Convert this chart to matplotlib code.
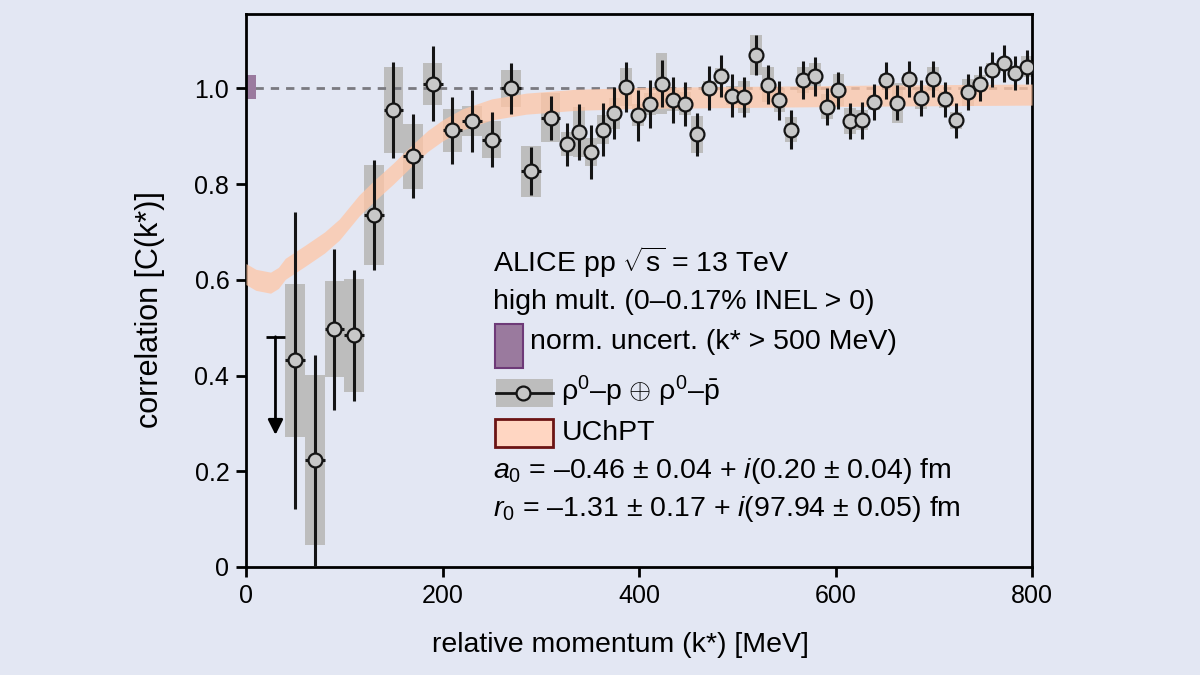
import numpy as np
import matplotlib
matplotlib.use("Agg")
import matplotlib.pyplot as plt
from matplotlib.patches import Rectangle

plt.rcParams["font.family"] = ["Liberation Sans", "DejaVu Sans"]
plt.rcParams["mathtext.fontset"] = "custom"
plt.rcParams["mathtext.rm"] = "Liberation Sans"
plt.rcParams["mathtext.it"] = "Liberation Sans:italic"

bg = "#e3e7f3"

# data points: k* (MeV), C(k*), stat err, syst err, bin width
k = [50, 70, 90, 110, 130, 150, 170, 190, 210, 230, 250, 270, 290, 310,
     327, 339, 351, 363, 375, 387, 399, 411, 423, 435, 447, 459, 471, 483,
     495, 507, 519, 531, 543, 555, 567, 579, 591, 603, 615, 627, 639, 651,
     663, 675, 687, 699, 711, 723, 735, 747, 759, 771, 783, 795]
corr = [0.432, 0.223, 0.497, 0.484, 0.735, 0.955, 0.858, 1.010, 0.912, 0.932,
        0.893, 1.000, 0.827, 0.939, 0.883, 0.909, 0.867, 0.914, 0.948, 1.003,
        0.944, 0.968, 1.010, 0.975, 0.968, 0.904, 1.000, 1.026, 0.985, 0.982,
        1.070, 1.008, 0.975, 0.914, 1.018, 1.025, 0.962, 0.996, 0.932, 0.933,
        0.971, 1.017, 0.970, 1.020, 0.980, 1.020, 0.977, 0.933, 0.992, 1.010,
        1.039, 1.052, 1.032, 1.045]
stat = [0.310, 0.220, 0.168, 0.137, 0.115, 0.100, 0.088, 0.078, 0.070, 0.064,
        0.058, 0.054, 0.050, 0.046, 0.045, 0.059, 0.057, 0.056, 0.054, 0.052,
        0.053, 0.050, 0.049, 0.048, 0.046, 0.045, 0.046, 0.044, 0.044, 0.042,
        0.042, 0.041, 0.041, 0.040, 0.040, 0.040, 0.038, 0.039, 0.038, 0.038,
        0.038, 0.039, 0.037, 0.037, 0.038, 0.037, 0.037, 0.037, 0.037, 0.036,
        0.037, 0.038, 0.036, 0.036]
syst = [0.160, 0.178, 0.100, 0.118, 0.105, 0.090, 0.068, 0.044, 0.045, 0.031,
        0.038, 0.039, 0.053, 0.051, 0.025, 0.052, 0.030, 0.030, 0.032, 0.039,
        0.023, 0.023, 0.063, 0.022, 0.024, 0.039, 0.016, 0.016, 0.019, 0.033,
        0.042, 0.037, 0.025, 0.026, 0.027, 0.028, 0.026, 0.033, 0.027, 0.021,
        0.016, 0.014, 0.042, 0.013, 0.023, 0.025, 0.018, 0.018, 0.028, 0.018,
        0.014, 0.012, 0.014, 0.022]
bin_w = [20] * 14 + [12] * 40

# upper limit for the first bin
limit_k = 30
limit_top = 0.481
limit_bottom = 0.276

# UChPT curve
model_k = [0, 10, 25, 33, 40, 60, 80, 95, 115, 130, 150, 170, 185, 200, 220,
           250, 285, 335, 400, 500, 650, 800]
model_c = [0.612, 0.600, 0.594, 0.604, 0.623, 0.650, 0.678, 0.705, 0.755,
           0.785, 0.822, 0.862, 0.890, 0.912, 0.935, 0.956, 0.968, 0.976,
           0.980, 0.982, 0.985, 0.987]
model_half = 0.022

norm_lo, norm_hi = 0.977, 1.027

k = np.array(k)
corr = np.array(corr)
stat = np.array(stat)
syst = np.array(syst)
bin_w = np.array(bin_w)

fig = plt.figure(figsize=(12, 6.75), dpi=100, facecolor=bg)
ax = fig.add_axes([0.205, 0.16, 0.655, 0.819], facecolor=bg)

# systematic boxes
ax.bar(k, 2 * syst, bottom=corr - syst, width=bin_w, color="#bdbdbd",
       linewidth=0, zorder=1)

ax.axhline(1.0, xmin=0.012, color="#7a7a80", lw=2, ls=(0, (3, 2.5)), zorder=2)
ax.bar([5], [norm_hi - norm_lo], bottom=norm_lo, width=10, color="#9a7a9e",
       linewidth=0, zorder=2)

mk = np.array(model_k)
mc = np.array(model_c)
ax.fill_between(mk, mc - model_half, mc + model_half, color="#ffc6a6",
                alpha=0.75, linewidth=0, zorder=3)

ax.errorbar(k, corr, yerr=stat, xerr=bin_w / 2, fmt="o", color="#151515",
            elinewidth=2.2, capsize=0, ms=10, mfc="#c8c8c8", mec="#151515",
            mew=1.6, zorder=4)

# upper limit arrow
ax.hlines(limit_top, limit_k - 10, limit_k + 10, color="black", lw=2, zorder=4)
ax.annotate("", xy=(limit_k, limit_bottom), xytext=(limit_k, limit_top),
            arrowprops=dict(arrowstyle="-|>,head_width=0.45,head_length=0.9",
                            color="black", lw=2, shrinkA=0, shrinkB=0),
            zorder=4)

ax.set_xlim(0, 800)
ax.set_ylim(0, 1.155)
ax.set_xticks([0, 200, 400, 600, 800])
ax.set_yticks([0, 0.2, 0.4, 0.6, 0.8, 1.0])
ax.set_yticklabels(["0", "0.2", "0.4", "0.6", "0.8", "1.0"])
ax.tick_params(direction="out", length=7, width=2, labelsize=18, pad=5,
               colors="black")
for s in ax.spines.values():
    s.set_linewidth(2)
ax.set_xlabel("relative momentum (k*) [MeV]", fontsize=20.5)
ax.xaxis.set_label_coords(0.476, -0.117)
ax.set_ylabel("correlation [C(k*)]", fontsize=22)
ax.yaxis.set_label_coords(-0.103, 0.465)

# legend / annotation block
fs = 20.5
tx = 251
ax.text(tx, 0.637, r"ALICE pp $\sqrt{\mathrm{s}}$ = 13 TeV", fontsize=fs, va="center")
ax.text(tx, 0.554, "high mult. (0–0.17% INEL > 0)", fontsize=fs, va="center")
ax.add_patch(Rectangle((253, 0.415), 29, 0.092, facecolor="#9a7a9e",
                       edgecolor="#6e3a78", lw=1.5, zorder=5))
ax.text(289, 0.470, "norm. uncert. (k* > 500 MeV)", fontsize=fs, va="center")
ax.add_patch(Rectangle((254, 0.335), 58, 0.057, facecolor="#bdbdbd",
                       edgecolor="none", zorder=5))
ax.plot([254, 312], [0.3635, 0.3635], color="#151515", lw=2, zorder=6)
ax.plot([282], [0.3635], "o", ms=10, mfc="#c8c8c8", mec="#151515", mew=1.6,
        zorder=7)
ax.text(321, 0.366, r"ρ$^{0}$–p $\oplus$ ρ$^{0}$–$\bar{\mathrm{p}}$",
        fontsize=fs, va="center")
ax.add_patch(Rectangle((253.5, 0.250), 59, 0.060, facecolor="#ffd6c2",
                       edgecolor="#6b1414", lw=2, zorder=5))
ax.text(321, 0.281, "UChPT", fontsize=fs, va="center")
ax.text(tx, 0.201, r"$a_{\mathit{0}}$ = –0.46 ± 0.04 + $i$(0.20 ± 0.04) fm",
        fontsize=fs, va="center")
ax.text(tx, 0.121, r"$r_{\mathit{0}}$ = –1.31 ± 0.17 + $i$(97.94 ± 0.05) fm",
        fontsize=fs, va="center")

fig.savefig("out.png", dpi=100, facecolor=bg)
